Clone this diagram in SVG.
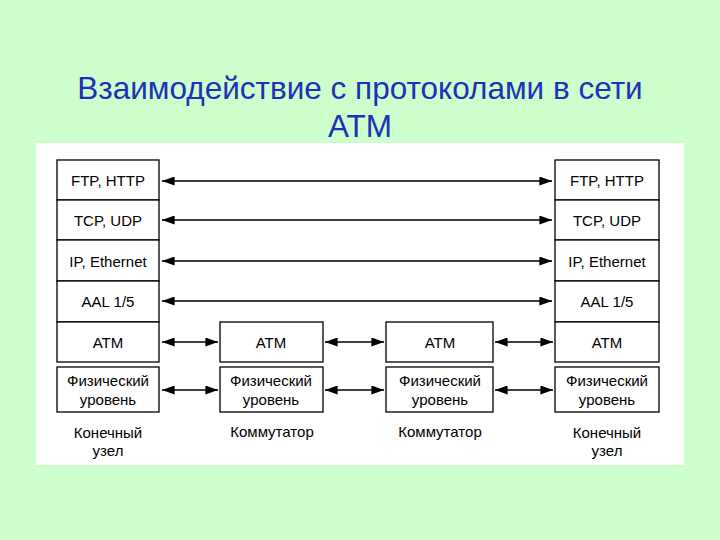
<svg xmlns="http://www.w3.org/2000/svg" width="720" height="540" viewBox="0 0 720 540">
<defs>
<marker id="a" viewBox="0 0 14 10" refX="14" refY="5" markerWidth="14" markerHeight="9" markerUnits="userSpaceOnUse" orient="auto-start-reverse"><path d="M0,0 L14,5 L0,10 z" fill="#000"/></marker>
</defs>
<style>
.b{fill:#fff;stroke:#000;stroke-width:1.3}
.t{font-family:"Liberation Sans",Arial,sans-serif;font-size:15px;text-anchor:middle;fill:#000}
.c line{stroke:#000;stroke-width:1.5;marker-start:url(#a);marker-end:url(#a)}
.h{font-family:"Liberation Sans",Arial,sans-serif;font-size:31.5px;text-anchor:middle;fill:#2030b8}
</style>
<rect width="720" height="540" fill="#ccffcc"/>
<text class="h" x="360" y="99">Взаимодействие с протоколами в сети</text>
<text class="h" x="360" y="137">ATM</text>
<rect x="36" y="143" width="648" height="322" fill="#fff"/>
<g id="left">
<rect class="b" x="57" y="160" width="102" height="40"/><text class="t" x="108" y="186">FTP, HTTP</text>
<rect class="b" x="57" y="200" width="102" height="40"/><text class="t" x="108" y="226">TCP, UDP</text>
<rect class="b" x="57" y="240" width="102" height="41"/><text class="t" x="108" y="267">IP, Ethernet</text>
<rect class="b" x="57" y="281" width="102" height="41"/><text class="t" x="108" y="307">AAL 1/5</text>
<rect class="b" x="57" y="322" width="102" height="40"/><text class="t" x="108" y="348">ATM</text>
<rect class="b" x="57" y="367" width="102" height="45"/><text class="t" x="108" y="386">Физический</text><text class="t" x="108" y="405">уровень</text>
<text class="t" x="108" y="438">Конечный</text><text class="t" x="108" y="456">узел</text>
</g>
<g id="sw1">
<rect class="b" x="220" y="322" width="103" height="40"/><text class="t" x="271" y="348">ATM</text>
<rect class="b" x="220" y="367" width="103" height="45"/><text class="t" x="271" y="386">Физический</text><text class="t" x="271" y="405">уровень</text>
<text class="t" x="272" y="437">Коммутатор</text>
</g>
<g id="sw2">
<rect class="b" x="386" y="322" width="107" height="40"/><text class="t" x="440" y="348">ATM</text>
<rect class="b" x="386" y="367" width="107" height="45"/><text class="t" x="440" y="386">Физический</text><text class="t" x="440" y="405">уровень</text>
<text class="t" x="440" y="437">Коммутатор</text>
</g>
<g id="right">
<rect class="b" x="555" y="160" width="104" height="40"/><text class="t" x="607" y="186">FTP, HTTP</text>
<rect class="b" x="555" y="200" width="104" height="40"/><text class="t" x="607" y="226">TCP, UDP</text>
<rect class="b" x="555" y="240" width="104" height="41"/><text class="t" x="607" y="267">IP, Ethernet</text>
<rect class="b" x="555" y="281" width="104" height="41"/><text class="t" x="607" y="307">AAL 1/5</text>
<rect class="b" x="555" y="322" width="104" height="40"/><text class="t" x="607" y="348">ATM</text>
<rect class="b" x="555" y="367" width="104" height="45"/><text class="t" x="607" y="386">Физический</text><text class="t" x="607" y="405">уровень</text>
<text class="t" x="607" y="438">Конечный</text><text class="t" x="607" y="456">узел</text>
</g>
<g class="c">
<line x1="162" y1="181" x2="552" y2="181"/>
<line x1="162" y1="220" x2="552" y2="220"/>
<line x1="162" y1="261" x2="552" y2="261"/>
<line x1="162" y1="301" x2="552" y2="301"/>
<line x1="162" y1="342" x2="218" y2="342"/>
<line x1="325" y1="342" x2="384" y2="342"/>
<line x1="495" y1="342" x2="553" y2="342"/>
<line x1="162" y1="390" x2="218" y2="390"/>
<line x1="325" y1="390" x2="384" y2="390"/>
<line x1="495" y1="390" x2="553" y2="390"/>
</g>
</svg>
